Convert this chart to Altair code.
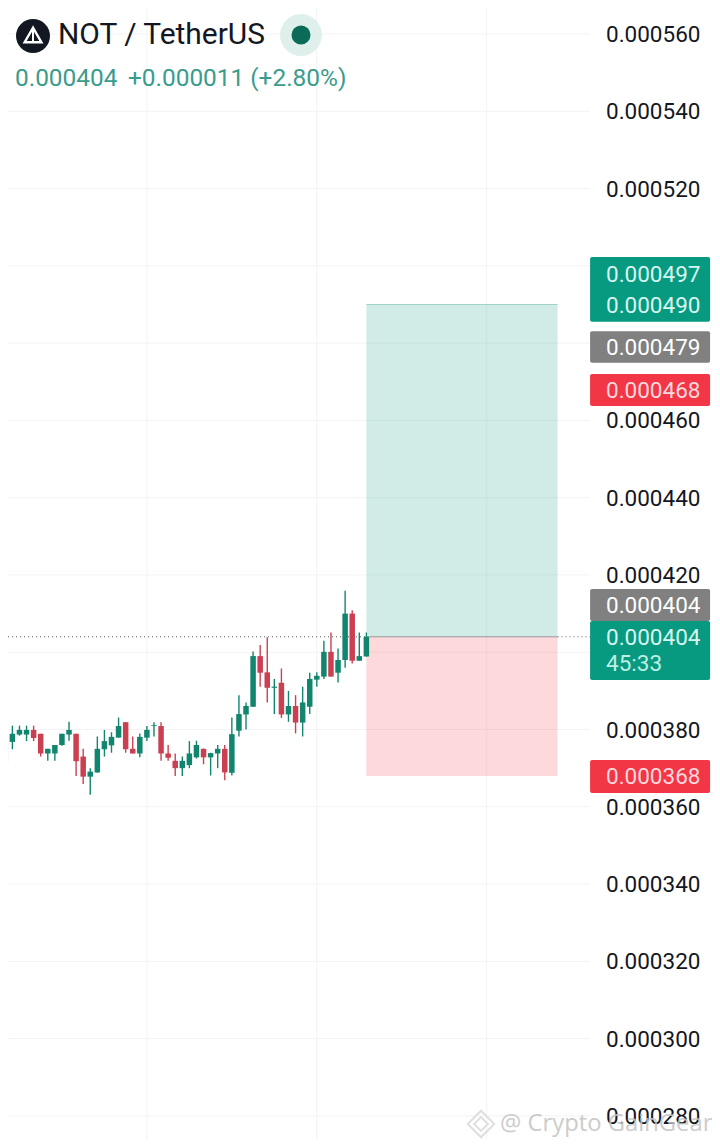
import altair as alt
import pandas as pd

# Prices are in millionths of USDT (404.0 = 0.000404)
candle_index = list(range(-1, 52))
opens = [371.1, 371.6, 376.8, 378.7, 378.7, 379.9, 378.9, 373.8, 373.8, 376.0, 378.7, 378.9, 373.0, 367.8, 368.9,
         374.9, 375.9, 377.9, 381.9, 375.0, 373.8, 377.9, 380.9, 380.9, 373.8, 371.9, 370.0, 370.8, 372.8, 375.0,
         372.8, 373.8, 375.0, 368.8, 379.7, 383.9, 385.9, 399.0, 394.8, 390.8, 392.1, 383.9, 386.1, 381.8, 385.9,
         392.9, 393.7, 400.1, 394.7, 398.0, 410.0, 397.8, 398.9]
closes = [372.0, 377.1, 378.9, 379.9, 379.9, 377.8, 373.8, 375.0, 376.0, 378.9, 379.9, 371.8, 367.8, 369.1, 375.0,
          377.0, 378.1, 380.9, 374.9, 373.8, 378.1, 379.9, 381.1, 373.8, 372.7, 370.0, 371.9, 373.8, 376.0, 372.8,
          373.9, 375.0, 368.9, 378.8, 384.0, 386.1, 399.0, 394.7, 390.8, 391.1, 383.9, 386.1, 381.8, 387.0, 393.1,
          393.9, 400.1, 393.7, 398.0, 410.0, 397.8, 399.0, 404.0]
highs = [373.0, 379.0, 381.0, 381.0, 381.0, 381.0, 378.9, 375.0, 376.0, 378.9, 382.0, 378.9, 375.0, 370.0, 378.2,
         379.9, 379.3, 383.1, 381.9, 378.2, 379.0, 380.9, 381.9, 381.9, 376.0, 373.8, 373.0, 377.0, 377.1, 375.1,
         374.0, 376.0, 376.0, 383.1, 388.9, 387.0, 400.2, 401.9, 403.9, 393.1, 395.8, 390.0, 388.9, 391.1, 394.7,
         394.8, 403.0, 405.1, 401.0, 415.9, 410.9, 405.1, 405.1]
lows = [370.5, 371.1, 374.9, 378.4, 377.0, 377.0, 373.0, 371.9, 371.9, 375.8, 377.1, 368.0, 365.9, 363.1, 368.8,
        373.0, 374.0, 377.9, 374.0, 373.8, 372.8, 377.0, 378.2, 371.9, 371.9, 368.0, 368.0, 370.0, 372.5, 371.0,
        368.1, 370.0, 366.9, 368.1, 378.2, 380.0, 385.9, 391.1, 387.0, 384.0, 383.0, 382.0, 379.0, 378.2, 384.0,
        391.1, 393.1, 393.7, 392.2, 396.0, 397.1, 397.8, 398.9]

grid_prices = [280, 300, 320, 340, 360, 380, 400, 420, 440, 460, 480, 500, 520, 540, 560]
# 0.000400, 0.000480 and 0.000500 sit behind price tags in the reference
axis_prices = [280, 300, 320, 340, 360, 380, 420, 440, 460, 520, 540, 560]
axis_labels = ["0.000280", "0.000300", "0.000320", "0.000340", "0.000360", "0.000380", "0.000420",
               "0.000440", "0.000460", "0.000520", "0.000540", "0.000560"]
time_grid = [20, 44, 68]

entry_price, target_price, stop_price = 404.0, 490.0, 368.0
box_start, box_end = 51, 78
pane_end = 82.6
tag_end = 99.55

tag_top = [502.3, 483.1, 472.0, 416.4, 408.1, 372.1]
tag_bottom = [485.5, 474.9, 463.7, 408.1, 392.8, 363.6]
tag_color = ["#089981", "#808080", "#f23645", "#808080", "#089981", "#f23645"]

tag_text = ["0.000497", "0.000490", "0.000479", "0.000468", "0.000404", "0.000404", "45:33", "0.000368"]
tag_text_y = [497.9, 489.9, 479.0, 467.9, 412.2, 404.0, 397.2, 368.0]
tag_text_color = ["#d8f5ee", "#d8f5ee", "#ffffff", "#ffd9dd", "#ffffff", "#d8f5ee", "#bdf0e2", "#ffd9dd"]

X_DOMAIN = [0.381, 99.82]
Y_DOMAIN = [273.77, 566.73]
GREEN, RED = "#12856e", "#cb4051"
FONT = "Roboto"
PRICE_SIZE = 22.5

x_s = alt.Scale(domain=X_DOMAIN, padding=0, nice=False, zero=False)
y_s = alt.Scale(domain=Y_DOMAIN, padding=0, nice=False, zero=False)
X = alt.X("x:Q", scale=x_s, axis=None)
Y = alt.Y("y:Q", scale=y_s, axis=None)

candles = pd.DataFrame({"x": candle_index, "o": opens, "c": closes, "h": highs, "l": lows})
candles["color"] = [GREEN if c >= o else RED for o, c in zip(opens, closes)]

h_grid = alt.Chart(pd.DataFrame({"y": grid_prices, "x": [X_DOMAIN[0]] * len(grid_prices), "x2": [pane_end] * len(grid_prices)})).mark_rule(
    color="#f2f3f4", strokeWidth=1
).encode(x=X, x2="x2:Q", y=Y)
v_grid = alt.Chart(pd.DataFrame({"x": time_grid})).mark_rule(color="#f2f3f4", strokeWidth=1).encode(
    x=X, y=alt.value(0), y2=alt.value(1132)
)
price_labels = alt.Chart(pd.DataFrame({"t": axis_labels, "y": axis_prices})).mark_text(
    font=FONT, fontSize=PRICE_SIZE, align="left", baseline="middle", color="#131722", dy=1
).encode(x=alt.value(598), y=Y, text="t:N")

boxes = pd.DataFrame({"x": [box_start] * 2, "x2": [box_end] * 2, "y": [entry_price, entry_price],
                      "y2": [target_price, stop_price], "color": ["#089981", "#f23645"]})
box_layer = alt.Chart(boxes).mark_rect(opacity=0.19).encode(
    x=X, x2="x2:Q", y=Y, y2="y2:Q", color=alt.Color("color:N", scale=None)
)
target_line = alt.Chart(pd.DataFrame({"y": [target_price], "x": [box_start], "x2": [box_end]})).mark_rule(
    color="#9ed3c6", strokeWidth=1).encode(x=X, x2="x2:Q", y=Y)
entry_dotted = alt.Chart(pd.DataFrame({"y": [entry_price, entry_price], "x": [X_DOMAIN[0], box_end], "x2": [box_start, pane_end]})).mark_rule(
    color="#555b66", strokeWidth=1, strokeDash=[1, 3]).encode(x=X, x2="x2:Q", y=Y)
entry_solid = alt.Chart(pd.DataFrame({"y": [entry_price], "x": [box_start], "x2": [box_end]})).mark_rule(
    color="#9a9a9a", strokeWidth=1).encode(x=X, x2="x2:Q", y=Y)

wicks = alt.Chart(candles).mark_rule(strokeWidth=1.4).encode(
    x=X, y=alt.Y("h:Q", scale=y_s, axis=None), y2="l:Q", color=alt.Color("color:N", scale=None)
)
bodies = alt.Chart(candles).mark_bar(size=5.5).encode(
    x=X, y=alt.Y("o:Q", scale=y_s, axis=None), y2="c:Q", color=alt.Color("color:N", scale=None)
)

tags = pd.DataFrame({"y": tag_top, "y2": tag_bottom, "color": tag_color,
                     "x": [pane_end] * len(tag_top), "x2": [tag_end] * len(tag_top)})
tag_boxes = alt.Chart(tags).mark_rect(cornerRadius=2).encode(
    x=X, x2="x2:Q", y=Y, y2="y2:Q", color=alt.Color("color:N", scale=None)
)
tag_labels = alt.Chart(pd.DataFrame({"t": tag_text, "y": tag_text_y, "color": tag_text_color})).mark_text(
    font=FONT, fontSize=PRICE_SIZE, align="left", baseline="middle", dy=1
).encode(x=alt.value(598), y=Y, text="t:N", color=alt.Color("color:N", scale=None))


def label(text, x, y, size, color, font=FONT, **kw):
    return alt.Chart(alt.Data(values=[{"t": text}])).mark_text(
        font=font, fontSize=size, color=color, align="left", baseline="middle", **kw
    ).encode(x=alt.value(x), y=alt.value(y), text="t:N")


def dot(x, y, size, color, shape="circle", **kw):
    return alt.Chart(alt.Data(values=[{"t": 1}])).mark_point(
        shape=shape, size=size, color=color, **kw
    ).encode(x=alt.value(x), y=alt.value(y))


header = [
    dot(25, 28, 1156, "#131722", filled=True, opacity=1),
    dot(25, 27, 280, "#ffffff", shape="triangle-up", filled=False, strokeWidth=2.4, opacity=1),
    alt.Chart(alt.Data(values=[{"t": 1}])).mark_rule(color="#ffffff", strokeWidth=2).encode(
        x=alt.value(25), y=alt.value(20), y2=alt.value(34)),
    label("NOT / TetherUS", 50, 27, 29.9, "#131722"),
    dot(293, 27, 1764, "#dff0ec", filled=True, opacity=1),
    dot(293, 27, 361, "#0a6b58", filled=True, opacity=1),
    label("0.000404", 7, 71, 24.4, "#3a9c8c"),
    label("+0.000011 (+2.80%)", 120, 71, 24.4, "#3a9c8c"),
]

watermark = [
    dot(473, 1116, 700, "#dcdcdc", shape="diamond", filled=False, strokeWidth=2, opacity=0.9),
    dot(473, 1116, 190, "#dcdcdc", shape="diamond", filled=False, strokeWidth=2, opacity=0.9),
    label("@ Crypto GainGear", 492, 1116, 23.8, "#c4c4c4", font="Open Sans", opacity=0.85),
]

chart = alt.layer(
    h_grid, v_grid, price_labels, box_layer, target_line, entry_solid, entry_dotted, wicks, bodies,
    tag_boxes, tag_labels, *header, *watermark
).resolve_scale(color="independent").properties(
    width=704, height=1132, padding=0, background="#ffffff",
    autosize=alt.AutoSizeParams(type="none"),
).configure_view(stroke=None)

chart.save("out.html", embed_options={"renderer": "svg", "actions": False})
